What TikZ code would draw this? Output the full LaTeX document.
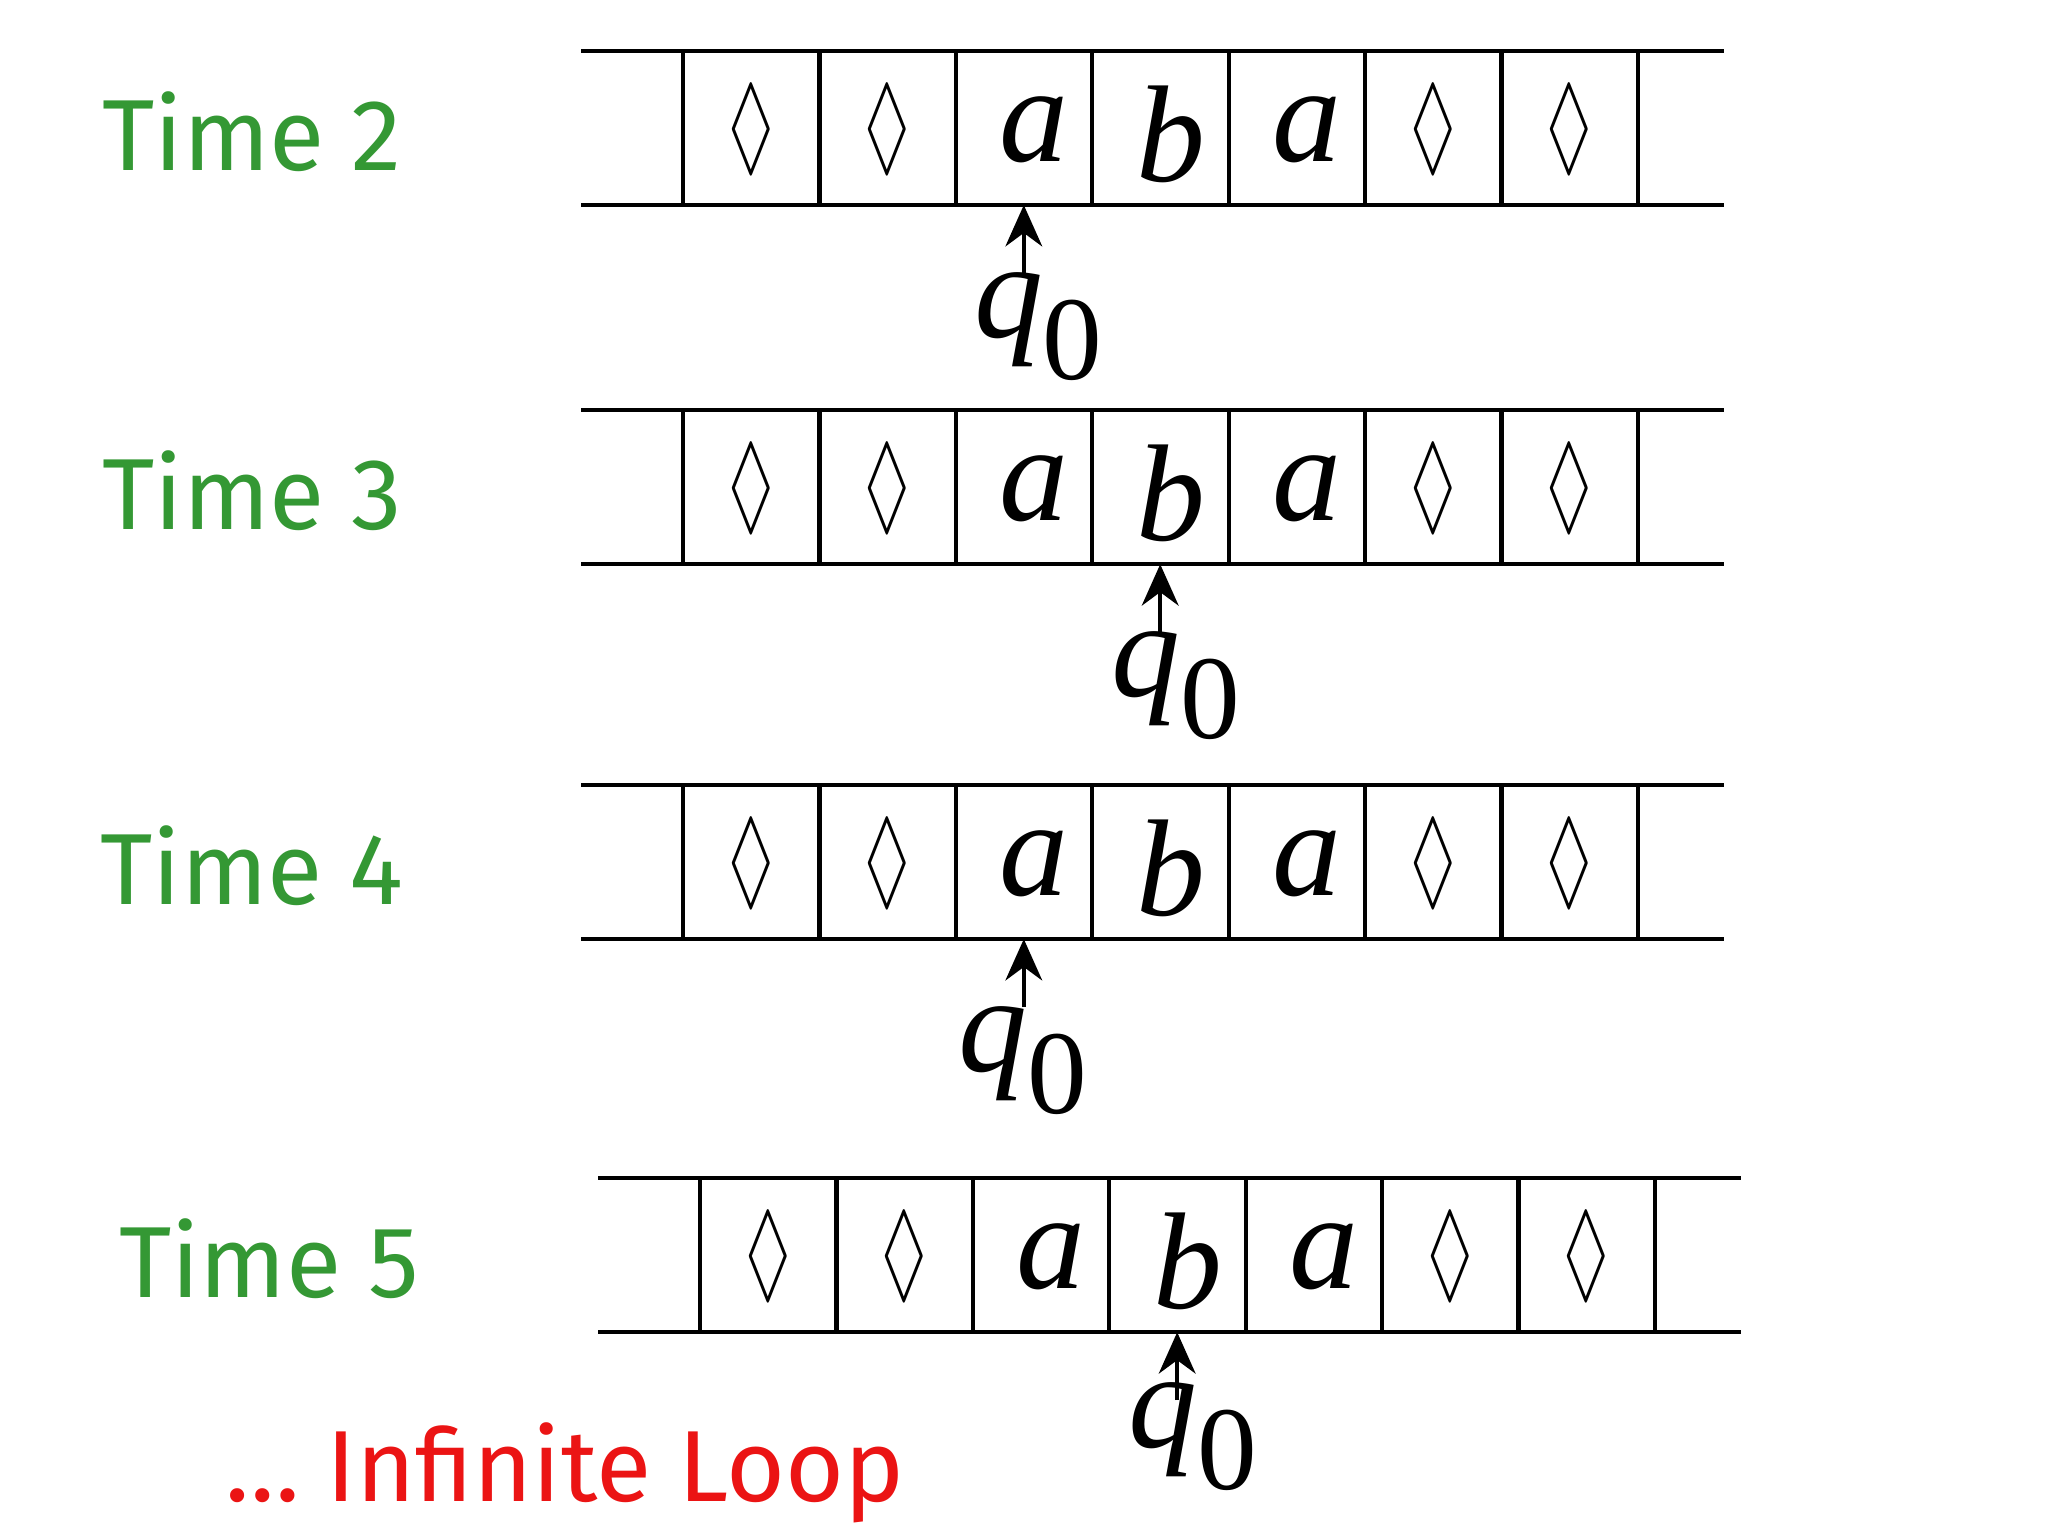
\documentclass[tikz,border=0pt]{standalone}
\usepackage{fontspec}
\usepackage{amssymb}
\usetikzlibrary{arrows.meta}
\setmainfont{Liberation Serif}
\newfontfamily\labfont{Fira Sans}
\definecolor{tgreen}{RGB}{52,152,52}
\definecolor{tred}{RGB}{235,20,20}
\newcommand{\dia}{\scalebox{0.62}[1]{$\Diamond$}}
\newcommand{\qzero}{\itshape q\raisebox{-0.3em}{\upshape\fontsize{26}{28}\selectfont 0}}
\begin{document}
\begin{tikzpicture}[x=0.01cm,y=-0.01cm,
  tape/.style={line width=0.9pt},
  sym/.style={font=\fontsize{30}{32}\selectfont},
  dsym/.style={font=\fontsize{24}{26}\selectfont},
  timelab/.style={font=\labfont\fontsize{22}{24}\selectfont,text=tgreen},
  head/.style={-{Stealth[length=9pt,width=8pt]},line width=0.9pt}]
\useasboundingbox (0,0) rectangle (1568,1176);
\foreach \ox/\oy/\t/\h/\qx/\qy in {0/39/2/2/795/250, 0/314/3/3/900/525, 0/601/4/2/783/812, 13/902/5/3/913/1100}{
  \begin{scope}[shift={(\ox,\oy)}]
    \draw[tape] (445,0) -- (1320,0) (445,118) -- (1320,118);
    \foreach \i in {0,...,7}{ \draw[tape] ({523+104.43*\i},0) -- ({523+104.43*\i},118); }
    \foreach \i in {0,1,5,6}{
      \node[dsym] (c\t\i) at ({575+104.43*\i},60) {\dia};
    }
    \node[sym] (c\t2) at ({575+104.43*2+8},60) {\itshape a};
    \node[sym] (c\t3) at ({575+104.43*3+8},64) {\itshape b};
    \node[sym] (c\t4) at ({575+104.43*4+8},60) {\itshape a};
    \coordinate (hb\t) at ({575+104.43*\h},118);
    \coordinate (ht\t) at ({575+104.43*\h},170);
    \node[timelab] (tl\t) at (193,62) {Time \t};
  \end{scope}
  \draw[head] (ht\t) -- (hb\t);
  \node[sym] (q\t) at (\qx,\qy) {\qzero};
}
\node[font=\labfont\fontsize{22}{24}\selectfont,text=tred,anchor=west] (loop) at (160,1128) {\dots\ Infinite Loop};
\end{tikzpicture}
\end{document}
